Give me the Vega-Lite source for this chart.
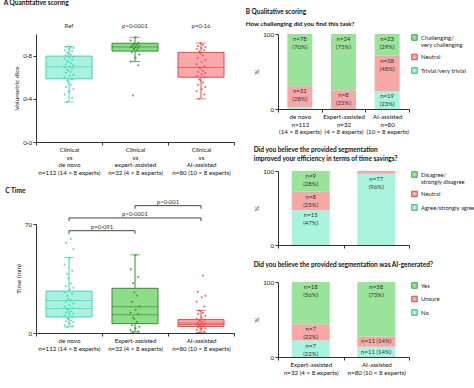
{
"$schema": "https://vega.github.io/schema/vega-lite/v6.json",
"background": "white",
"padding": {"left": 3, "top": 0, "right": 1, "bottom": 2},
"datasets": {
"aStats": [
{"k":"d","q1":0.585,"q3":0.795,"med":0.697,"lo":0.37,"hi":0.886},
{"k":"e","q1":0.842,"q3":0.914,"med":0.88,"lo":0.745,"hi":0.97},
{"k":"a","q1":0.60,"q3":0.83,"med":0.69,"lo":0.40,"hi":0.917}
],
"aP": [{"k":"d","t":"Ref"},{"k":"e","t":"p<0·0001"},{"k":"a","t":"p=0·16"}],
"aPts": [
{"k":"d","v":0.37,"e":3},{"k":"d","v":0.41,"e":7},{"k":"d","v":0.44,"e":1},{"k":"d","v":0.47,"e":5},{"k":"d","v":0.49,"e":8},{"k":"d","v":0.51,"e":2},{"k":"d","v":0.53,"e":6},{"k":"d","v":0.55,"e":4},
{"k":"d","v":0.57,"e":3},{"k":"d","v":0.58,"e":7},{"k":"d","v":0.60,"e":1},{"k":"d","v":0.61,"e":5},{"k":"d","v":0.62,"e":8},{"k":"d","v":0.64,"e":2},{"k":"d","v":0.65,"e":6},{"k":"d","v":0.66,"e":4},
{"k":"d","v":0.67,"e":3},{"k":"d","v":0.68,"e":7},{"k":"d","v":0.69,"e":1},{"k":"d","v":0.70,"e":5},{"k":"d","v":0.71,"e":8},{"k":"d","v":0.72,"e":2},{"k":"d","v":0.73,"e":6},{"k":"d","v":0.74,"e":4},
{"k":"d","v":0.75,"e":3},{"k":"d","v":0.76,"e":7},{"k":"d","v":0.77,"e":1},{"k":"d","v":0.78,"e":5},{"k":"d","v":0.79,"e":8},{"k":"d","v":0.80,"e":2},{"k":"d","v":0.81,"e":6},{"k":"d","v":0.82,"e":4},
{"k":"d","v":0.83,"e":3},{"k":"d","v":0.84,"e":7},{"k":"d","v":0.85,"e":1},{"k":"d","v":0.86,"e":5},{"k":"d","v":0.87,"e":8},{"k":"d","v":0.88,"e":2},{"k":"d","v":0.88,"e":6},{"k":"d","v":0.885,"e":4},
{"k":"e","v":0.43,"e":3},{"k":"e","v":0.71,"e":7},{"k":"e","v":0.745,"e":1},{"k":"e","v":0.78,"e":5},{"k":"e","v":0.81,"e":8},{"k":"e","v":0.83,"e":2},{"k":"e","v":0.85,"e":6},{"k":"e","v":0.86,"e":4},
{"k":"e","v":0.87,"e":3},{"k":"e","v":0.87,"e":7},{"k":"e","v":0.88,"e":1},{"k":"e","v":0.88,"e":5},{"k":"e","v":0.89,"e":8},{"k":"e","v":0.89,"e":2},{"k":"e","v":0.90,"e":6},{"k":"e","v":0.90,"e":4},
{"k":"e","v":0.91,"e":3},{"k":"e","v":0.92,"e":7},{"k":"e","v":0.94,"e":1},{"k":"e","v":0.97,"e":5},
{"k":"a","v":0.40,"e":3},{"k":"a","v":0.44,"e":7},{"k":"a","v":0.47,"e":1},{"k":"a","v":0.49,"e":5},{"k":"a","v":0.51,"e":8},{"k":"a","v":0.53,"e":2},{"k":"a","v":0.55,"e":6},{"k":"a","v":0.57,"e":4},
{"k":"a","v":0.58,"e":3},{"k":"a","v":0.60,"e":7},{"k":"a","v":0.61,"e":1},{"k":"a","v":0.63,"e":5},{"k":"a","v":0.64,"e":8},{"k":"a","v":0.65,"e":2},{"k":"a","v":0.66,"e":6},{"k":"a","v":0.68,"e":4},
{"k":"a","v":0.69,"e":3},{"k":"a","v":0.70,"e":7},{"k":"a","v":0.72,"e":1},{"k":"a","v":0.74,"e":5},{"k":"a","v":0.76,"e":8},{"k":"a","v":0.78,"e":2},{"k":"a","v":0.80,"e":6},{"k":"a","v":0.82,"e":4},
{"k":"a","v":0.84,"e":3},{"k":"a","v":0.85,"e":7},{"k":"a","v":0.86,"e":1},{"k":"a","v":0.87,"e":5},{"k":"a","v":0.88,"e":8},{"k":"a","v":0.89,"e":2},{"k":"a","v":0.90,"e":6},{"k":"a","v":0.915,"e":4}
],
"cStats": [
{"k":"d","q1":10.3,"q3":26.9,"med":15.8,"mean":20.9,"lo":3.9,"hi":48.5},
{"k":"e","q1":6.0,"q3":28.7,"med":11.8,"mean":16.8,"lo":0.7,"hi":50.2},
{"k":"a","q1":4.2,"q3":8.6,"med":5.4,"mean":6.5,"lo":0.3,"hi":14.5}
],
"cPts": [
{"k":"d","v":4,"e":3},{"k":"d","v":4.5,"e":7},{"k":"d","v":5,"e":1},{"k":"d","v":6,"e":5},{"k":"d","v":7,"e":8},{"k":"d","v":7.5,"e":2},{"k":"d","v":8,"e":6},{"k":"d","v":9,"e":4},
{"k":"d","v":9.5,"e":3},{"k":"d","v":10,"e":7},{"k":"d","v":11,"e":1},{"k":"d","v":12,"e":5},{"k":"d","v":12.5,"e":8},{"k":"d","v":13,"e":2},{"k":"d","v":14,"e":6},{"k":"d","v":15,"e":4},
{"k":"d","v":15.5,"e":3},{"k":"d","v":16,"e":7},{"k":"d","v":17,"e":1},{"k":"d","v":18,"e":5},{"k":"d","v":19,"e":8},{"k":"d","v":20,"e":2},{"k":"d","v":21,"e":6},{"k":"d","v":22,"e":4},
{"k":"d","v":24,"e":3},{"k":"d","v":25,"e":7},{"k":"d","v":26,"e":1},{"k":"d","v":28,"e":5},{"k":"d","v":29,"e":8},{"k":"d","v":30,"e":2},{"k":"d","v":32,"e":6},{"k":"d","v":35,"e":4},
{"k":"d","v":38,"e":3},{"k":"d","v":40,"e":7},{"k":"d","v":44,"e":1},{"k":"d","v":48,"e":5},{"k":"d","v":54,"e":8},{"k":"d","v":58,"e":2},{"k":"d","v":60.5,"e":6},{"k":"d","v":13.5,"e":4},
{"k":"e","v":0.5,"e":3},{"k":"e","v":1,"e":7},{"k":"e","v":2,"e":1},{"k":"e","v":3,"e":5},{"k":"e","v":4,"e":8},{"k":"e","v":5,"e":2},{"k":"e","v":7,"e":6},{"k":"e","v":9,"e":4},
{"k":"e","v":10,"e":3},{"k":"e","v":12,"e":7},{"k":"e","v":13,"e":1},{"k":"e","v":15,"e":5},{"k":"e","v":17,"e":8},{"k":"e","v":20,"e":2},{"k":"e","v":24,"e":6},{"k":"e","v":26,"e":4},
{"k":"e","v":32,"e":3},{"k":"e","v":36,"e":7},{"k":"e","v":41,"e":1},{"k":"e","v":50,"e":5},
{"k":"a","v":0.5,"e":3},{"k":"a","v":1,"e":7},{"k":"a","v":2,"e":1},{"k":"a","v":2.5,"e":5},{"k":"a","v":3,"e":8},{"k":"a","v":3.5,"e":2},{"k":"a","v":4,"e":6},{"k":"a","v":4.5,"e":4},
{"k":"a","v":5,"e":3},{"k":"a","v":5,"e":7},{"k":"a","v":5.5,"e":1},{"k":"a","v":6,"e":5},{"k":"a","v":6,"e":8},{"k":"a","v":6.5,"e":2},{"k":"a","v":7,"e":6},{"k":"a","v":7.5,"e":4},
{"k":"a","v":8,"e":3},{"k":"a","v":8.5,"e":7},{"k":"a","v":9,"e":1},{"k":"a","v":10,"e":5},{"k":"a","v":11,"e":8},{"k":"a","v":12,"e":2},{"k":"a","v":13,"e":6},{"k":"a","v":14,"e":4},
{"k":"a","v":14.5,"e":3},{"k":"a","v":17,"e":7},{"k":"a","v":20,"e":1},{"k":"a","v":23,"e":5},{"k":"a","v":24,"e":8},{"k":"a","v":26.5,"e":2},{"k":"a","v":37,"e":6},{"k":"a","v":3,"e":4}
],
"cBr": [
{"a":"d","b":"e","y":65.7,"y0":63.7},
{"a":"d","b":"a","y":73.9,"y0":71.9},
{"a":"e","b":"a","y":81.8,"y0":79.8}
],
"cTxEdge": [{"k":"e","y":65.7,"t":"p=0·091"},{"k":"a","y":81.8,"t":"p<0·001"}],
"cTxMid": [{"k":"e","y":73.9,"t":"p<0·0001"}],
"b1": [
{"k":"d","c":"Trivial/very trivial","o":1,"p":2.7,"t":""},
{"k":"d","c":"Neutral","o":2,"p":27.7,"t":"n=31|(28%)"},
{"k":"d","c":"Challenging/very challenging","o":3,"p":69.6,"t":"n=78|(70%)"},
{"k":"e","c":"Neutral","o":2,"p":25,"t":"n=8|(25%)"},
{"k":"e","c":"Challenging/very challenging","o":3,"p":75,"t":"n=24|(75%)"},
{"k":"a","c":"Trivial/very trivial","o":1,"p":23.75,"t":"n=19|(23%)"},
{"k":"a","c":"Neutral","o":2,"p":47.5,"t":"n=38|(48%)"},
{"k":"a","c":"Challenging/very challenging","o":3,"p":28.75,"t":"n=23|(29%)"}
],
"b2": [
{"k":"e","c":"Agree/strongly agree","o":1,"p":46.9,"t":"n=15|(47%)"},
{"k":"e","c":"Neutral","o":2,"p":25,"t":"n=8|(25%)"},
{"k":"e","c":"Disagree/strongly disagree","o":3,"p":28.1,"t":"n=9|(28%)"},
{"k":"a","c":"Agree/strongly agree","o":1,"p":96.25,"t":"n=77|(96%)"},
{"k":"a","c":"Neutral","o":2,"p":3.75,"t":""}
],
"b3": [
{"k":"e","c":"No","o":1,"p":21.9,"t":"n=7|(22%)"},
{"k":"e","c":"Unsure","o":2,"p":21.9,"t":"n=7|(22%)"},
{"k":"e","c":"Yes","o":3,"p":56.2,"t":"n=18|(56%)"},
{"k":"a","c":"No","o":1,"p":13.75,"t":"n=11 (14%)"},
{"k":"a","c":"Unsure","o":2,"p":13.75,"t":"n=11 (14%)"},
{"k":"a","c":"Yes","o":3,"p":72.5,"t":"n=58|(73%)"}
]
},
"hconcat": [
{
"spacing": 12,
"resolve": {"scale": {"color": "independent", "fill": "independent", "stroke": "independent", "xOffset": "independent"}},
"vconcat": [
{
"width": 198, "height": 108,
"title": {"text": "A  Quantitative scoring", "dx": -10, "offset": 16},
"layer": [
{"data": {"name": "aStats"}, "mark": {"type": "rule", "strokeWidth": 1},
 "encoding": {
  "x": {"field": "k", "type": "nominal", "scale": {"domain": ["d","e","a"], "paddingInner": 0, "paddingOuter": 0},
        "axis": {"title": null, "labelAngle": 0, "tickBand": "extent", "labelLimit": 0,
                 "labelExpr": "datum.value=='d'?['Clinical','vs','de novo','n=112 (14 × 8 experts)']:datum.value=='e'?['Clinical','vs','expert-assisted','n=32 (4 × 8 experts)']:datum.value=='a'?['Clinical','vs','AI-assisted','n=80 (10 × 8 experts)']:''"}},
  "y": {"field": "lo", "type": "quantitative", "scale": {"domain": [0, 1], "nice": false},
        "axis": {"title": "Volumetric dice", "labelOverlap": false, "values": [0,0.1,0.2,0.3,0.4,0.5,0.6,0.7,0.8,0.9,1], "labelExpr": "replace(format(datum.value,'.1f'),'.','·')"}},
  "y2": {"field": "hi"},
  "color": {"field": "k", "type": "nominal", "scale": {"domain": ["d","e","a"], "range": ["#3fd4b2","#2f8f2f","#ee4646"]}, "legend": null}
 }},
{"data": {"name": "aStats"}, "mark": {"type": "bar", "size": 46, "strokeWidth": 1},
 "encoding": {
  "x": {"field": "k", "type": "nominal"},
  "y": {"field": "q1", "type": "quantitative"}, "y2": {"field": "q3"},
  "fill": {"field": "k", "type": "nominal", "scale": {"domain": ["d","e","a"], "range": ["#a8f3df","#8fdc88","#f9a9a9"]}, "legend": null},
  "stroke": {"field": "k", "type": "nominal", "scale": {"domain": ["d","e","a"], "range": ["#3fd4b2","#2f8f2f","#ee4646"]}, "legend": null}
 }},
{"data": {"name": "aStats"}, "mark": {"type": "tick", "orient": "horizontal", "size": 46, "thickness": 1},
 "encoding": {"x": {"field": "k", "type": "nominal"}, "y": {"field": "med", "type": "quantitative"}, "color": {"field": "k", "type": "nominal", "legend": null}}},
{"data": {"name": "aStats"}, "mark": {"type": "tick", "orient": "horizontal", "size": 10, "thickness": 1},
 "encoding": {"x": {"field": "k", "type": "nominal"}, "y": {"field": "lo", "type": "quantitative"}, "color": {"field": "k", "type": "nominal", "legend": null}}},
{"data": {"name": "aStats"}, "mark": {"type": "tick", "orient": "horizontal", "size": 10, "thickness": 1},
 "encoding": {"x": {"field": "k", "type": "nominal"}, "y": {"field": "hi", "type": "quantitative"}, "color": {"field": "k", "type": "nominal", "legend": null}}},
{"data": {"name": "aPts"}, "mark": {"type": "circle", "size": 4, "opacity": 0.85},
 "encoding": {"x": {"field": "k", "type": "nominal"}, "xOffset": {"field": "e", "type": "nominal", "scale": {"range": [28, 38]}},
  "y": {"field": "v", "type": "quantitative"}, "color": {"field": "k", "type": "nominal", "legend": null}}},
{"data": {"name": "aP"}, "mark": {"type": "text", "fontSize": 6, "color": "#333"},
 "encoding": {"x": {"field": "k", "type": "nominal"}, "y": {"datum": 1.075, "type": "quantitative"}, "text": {"field": "t"}}}
]
},
{
"width": 198, "height": 109,
"title": {"text": "C  Time", "dx": -10, "offset": 4},
"layer": [
{"data": {"name": "cStats"}, "mark": {"type": "rule", "strokeWidth": 1},
 "encoding": {
  "x": {"field": "k", "type": "nominal", "scale": {"domain": ["d","e","a"], "paddingInner": 0, "paddingOuter": 0},
        "axis": {"title": null, "labelAngle": 0, "tickBand": "extent", "labelLimit": 0,
                 "labelExpr": "datum.value=='d'?['de novo','n=112 (14 × 8 experts)']:datum.value=='e'?['Expert-assisted','n=32 (4 × 8 experts)']:datum.value=='a'?['AI-assisted','n=80 (10 × 8 experts)']:''"}},
  "y": {"field": "lo", "type": "quantitative", "scale": {"domain": [0, 70], "nice": false},
        "axis": {"title": "Time (min)", "labelOverlap": false, "values": [0,5,10,15,20,25,30,35,40,45,50,55,60,65,70]}},
  "y2": {"field": "hi"},
  "color": {"field": "k", "type": "nominal", "scale": {"domain": ["d","e","a"], "range": ["#3fd4b2","#2f8f2f","#ee4646"]}, "legend": null}
 }},
{"data": {"name": "cStats"}, "mark": {"type": "bar", "size": 46, "strokeWidth": 1},
 "encoding": {
  "x": {"field": "k", "type": "nominal"},
  "y": {"field": "q1", "type": "quantitative"}, "y2": {"field": "q3"},
  "fill": {"field": "k", "type": "nominal", "scale": {"domain": ["d","e","a"], "range": ["#a8f3df","#8fdc88","#f9a9a9"]}, "legend": null},
  "stroke": {"field": "k", "type": "nominal", "scale": {"domain": ["d","e","a"], "range": ["#3fd4b2","#2f8f2f","#ee4646"]}, "legend": null}
 }},
{"data": {"name": "cStats"}, "mark": {"type": "tick", "orient": "horizontal", "size": 46, "thickness": 1},
 "encoding": {"x": {"field": "k", "type": "nominal"}, "y": {"field": "med", "type": "quantitative"}, "color": {"field": "k", "type": "nominal", "legend": null}}},
{"data": {"name": "cStats"}, "mark": {"type": "tick", "orient": "horizontal", "size": 46, "thickness": 1},
 "encoding": {"x": {"field": "k", "type": "nominal"}, "y": {"field": "mean", "type": "quantitative"}, "color": {"field": "k", "type": "nominal", "legend": null}}},
{"data": {"name": "cStats"}, "mark": {"type": "tick", "orient": "horizontal", "size": 10, "thickness": 1},
 "encoding": {"x": {"field": "k", "type": "nominal"}, "y": {"field": "lo", "type": "quantitative"}, "color": {"field": "k", "type": "nominal", "legend": null}}},
{"data": {"name": "cStats"}, "mark": {"type": "tick", "orient": "horizontal", "size": 10, "thickness": 1},
 "encoding": {"x": {"field": "k", "type": "nominal"}, "y": {"field": "hi", "type": "quantitative"}, "color": {"field": "k", "type": "nominal", "legend": null}}},
{"data": {"name": "cPts"}, "mark": {"type": "circle", "size": 4, "opacity": 0.85},
 "encoding": {"x": {"field": "k", "type": "nominal"}, "xOffset": {"field": "e", "type": "nominal", "scale": {"range": [28, 38]}},
  "y": {"field": "v", "type": "quantitative"}, "color": {"field": "k", "type": "nominal", "legend": null}}},
{"data": {"name": "cBr"}, "mark": {"type": "rule", "color": "#444", "strokeWidth": 1},
 "encoding": {"x": {"field": "a", "type": "nominal", "bandPosition": 0.5}, "x2": {"field": "b", "bandPosition": 0.5}, "y": {"field": "y", "type": "quantitative"}}},
{"data": {"name": "cBr"}, "mark": {"type": "rule", "color": "#444", "strokeWidth": 1},
 "encoding": {"x": {"field": "a", "type": "nominal"}, "y": {"field": "y", "type": "quantitative"}, "y2": {"field": "y0"}}},
{"data": {"name": "cBr"}, "mark": {"type": "rule", "color": "#444", "strokeWidth": 1},
 "encoding": {"x": {"field": "b", "type": "nominal"}, "y": {"field": "y", "type": "quantitative"}, "y2": {"field": "y0"}}},
{"data": {"name": "cTxEdge"}, "mark": {"type": "text", "fontSize": 6, "color": "#333", "baseline": "bottom", "dy": -1},
 "encoding": {"x": {"field": "k", "type": "nominal", "bandPosition": 0}, "y": {"field": "y", "type": "quantitative"}, "text": {"field": "t"}}},
{"data": {"name": "cTxMid"}, "mark": {"type": "text", "fontSize": 6, "color": "#333", "baseline": "bottom", "dy": -1},
 "encoding": {"x": {"field": "k", "type": "nominal"}, "y": {"field": "y", "type": "quantitative"}, "text": {"field": "t"}}}
]
}
]
},
{
"spacing": 12,
"resolve": {"scale": {"color": "independent"}, "legend": {"color": "independent"}},
"vconcat": [
{
"width": 131, "height": 75,
"title": {"text": "B  Qualitative scoring", "subtitle": "How challenging did you find this task?", "dx": -8, "subtitlePadding": 5},
"data": {"name": "b1"},
"transform": [{"stack": "p", "groupby": ["k"], "sort": [{"field": "o", "order": "ascending"}], "as": ["y0", "y1"]}],
"layer": [
{"mark": {"type": "bar", "size": 25},
 "encoding": {
  "x": {"field": "k", "type": "nominal", "scale": {"domain": ["d","e","a"], "paddingInner": 0, "paddingOuter": 0},
        "axis": {"title": null, "labelAngle": 0, "tickBand": "extent", "labelLimit": 0,
                 "labelExpr": "datum.value=='d'?['de novo','n=112','(14 × 8 experts)']:datum.value=='e'?['Expert-assisted','n=32','(4 × 8 experts)']:datum.value=='a'?['AI-assisted','n=80','(10 × 8 experts)']:''"}},
  "y": {"field": "y0", "type": "quantitative", "scale": {"domain": [0, 100], "nice": false}, "axis": {"title": "%", "labelOverlap": false, "values": [0,20,40,60,80,100]}},
  "y2": {"field": "y1"},
  "color": {"field": "c", "type": "nominal",
            "scale": {"domain": ["Challenging/very challenging","Neutral","Trivial/very trivial"], "range": ["#9be39a","#f6a7a7","#aaf3df"]},
            "legend": {"title": null, "labelExpr": "datum.label=='Challenging/very challenging'?['Challenging/','very challenging']:datum.label",
                       "encode": {"symbols": {"update": {"stroke": {"signal": "datum.value=='Neutral'?'#cf4a4a':datum.value=='Trivial/very trivial'?'#3aa88a':'#3d9a3d'"}}}}}}
 }},
{"mark": {"type": "text", "fontSize": 6, "color": "#333", "baseline": "top", "dy": 2, "lineBreak": "|"},
 "encoding": {"x": {"field": "k", "type": "nominal"}, "y": {"field": "y1", "type": "quantitative"}, "text": {"field": "t"}}}
]
},
{
"width": 131, "height": 74,
"title": {"text": ["Did you believe the provided segmentation", "improved your efficiency in terms of time savings?"], "offset": 6},
"data": {"name": "b2"},
"transform": [{"stack": "p", "groupby": ["k"], "sort": [{"field": "o", "order": "ascending"}], "as": ["y0", "y1"]}],
"layer": [
{"mark": {"type": "bar", "size": 38},
 "encoding": {
  "x": {"field": "k", "type": "nominal", "scale": {"domain": ["e","a"], "paddingInner": 0, "paddingOuter": 0},
        "axis": {"title": null, "labels": false, "tickBand": "extent"}},
  "y": {"field": "y0", "type": "quantitative", "scale": {"domain": [0, 100], "nice": false}, "axis": {"title": "%", "labelOverlap": false, "values": [0,20,40,60,80,100]}},
  "y2": {"field": "y1"},
  "color": {"field": "c", "type": "nominal",
            "scale": {"domain": ["Disagree/strongly disagree","Neutral","Agree/strongly agree"], "range": ["#9be39a","#f6a7a7","#aaf3df"]},
            "legend": {"title": null, "labelExpr": "datum.label=='Disagree/strongly disagree'?['Disagree/','strongly disagree']:datum.label",
                       "encode": {"symbols": {"update": {"stroke": {"signal": "datum.value=='Neutral'?'#cf4a4a':datum.value=='Agree/strongly agree'?'#3aa88a':'#3d9a3d'"}}}}}}
 }},
{"mark": {"type": "text", "fontSize": 6, "color": "#333", "baseline": "top", "dy": 2, "lineBreak": "|"},
 "encoding": {"x": {"field": "k", "type": "nominal"}, "y": {"field": "y1", "type": "quantitative"}, "text": {"field": "t"}}}
]
},
{
"width": 131, "height": 75,
"title": {"text": "Did you believe the provided segmentation was AI-generated?", "offset": 11},
"data": {"name": "b3"},
"transform": [{"stack": "p", "groupby": ["k"], "sort": [{"field": "o", "order": "ascending"}], "as": ["y0", "y1"]}],
"layer": [
{"mark": {"type": "bar", "size": 38},
 "encoding": {
  "x": {"field": "k", "type": "nominal", "scale": {"domain": ["e","a"], "paddingInner": 0, "paddingOuter": 0},
        "axis": {"title": null, "labelAngle": 0, "tickBand": "extent", "labelLimit": 0,
                 "labelExpr": "datum.value=='e'?['Expert-assisted','n=32 (4 × 8 experts)']:datum.value=='a'?['AI-assisted','n=80 (10 × 8 experts)']:''"}},
  "y": {"field": "y0", "type": "quantitative", "scale": {"domain": [0, 100], "nice": false}, "axis": {"title": "%", "labelOverlap": false, "values": [0,20,40,60,80,100]}},
  "y2": {"field": "y1"},
  "color": {"field": "c", "type": "nominal",
            "scale": {"domain": ["Yes","Unsure","No"], "range": ["#9be39a","#f6a7a7","#aaf3df"]},
            "legend": {"title": null,
                       "encode": {"symbols": {"update": {"stroke": {"signal": "datum.value=='Unsure'?'#cf4a4a':datum.value=='No'?'#3aa88a':'#3d9a3d'"}}}}}}
 }},
{"mark": {"type": "text", "fontSize": 6, "color": "#333", "baseline": "top", "dy": 2, "lineBreak": "|"},
 "encoding": {"x": {"field": "k", "type": "nominal"}, "y": {"field": "y1", "type": "quantitative"}, "text": {"field": "t"}}}
]
}
]
}
],
"spacing": 10,
"resolve": {"scale": {"color": "independent", "fill": "independent", "stroke": "independent"}, "legend": {"color": "independent"}},
"config": {
"font": "Lato",
"view": {"stroke": null},
"axis": {"labelFontSize": 6.2, "titleFontSize": 6.5, "titleFontWeight": "normal", "labelColor": "#111", "titleColor": "#222", "domainColor": "#333", "tickColor": "#333", "grid": false, "tickSize": 3, "labelPadding": 1.5, "titlePadding": 3, "labelLineHeight": 7.5, "labelOverlap": false},
"title": {"fontSize": 6.5, "fontWeight": "bold", "anchor": "start", "color": "#111", "subtitleFontSize": 6.3, "subtitleFontWeight": "bold", "subtitleColor": "#111", "offset": 4, "lineHeight": 8.5},
"legend": {"labelFontSize": 5.9, "symbolType": "square", "symbolSize": 30, "orient": "right", "offset": 2, "rowPadding": 2.5, "labelColor": "#222", "symbolStrokeWidth": 1, "labelLimit": 0, "labelLineHeight": 7.5, "labelOffset": 3}
}
}
